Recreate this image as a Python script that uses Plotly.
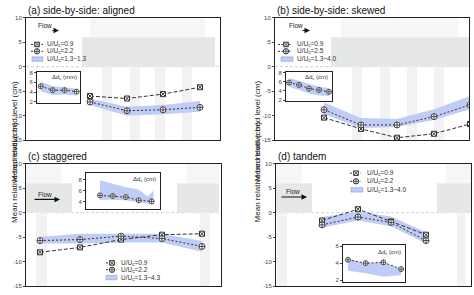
import plotly.graph_objects as go

W, H = 474, 295
def fx(p): return p / W
def fy(p): return 1 - p / H

FONT = "Liberation Sans, Arial, sans-serif"

# ---------------- data ----------------
# main panels: streamwise station positions (arbitrary units, no axis labels)
pos_a = [64, 101, 137, 174]
bed_a_09 = [-6.0, -6.5, -5.6, -4.2]
bed_a_22 = [-7.2, -9.0, -8.8, -8.3]
band_a_hi = [-6.5, -8.2, -7.8, -7.0]
band_a_lo = [-7.8, -10.0, -9.7, -9.2]

pos_b = [49, 86, 122, 159, 195]
bed_b_09 = [-10.4, -12.7, -14.5, -13.7, -11.7]
bed_b_25 = [-8.8, -11.9, -11.9, -10.2, -7.8]
band_b_hi = [-7.3, -10.5, -10.7, -8.7, -6.0]
band_b_lo = [-9.7, -12.5, -12.3, -10.9, -8.7]

pos_c = [14, 54, 95, 136, 176]
bed_c_09 = [-8.1, -7.1, -5.5, -4.5, -4.3]
bed_c_22 = [-5.7, -5.5, -4.8, -5.3, -6.9]
band_c_hi = [-4.9, -4.3, -4.3, -4.3, -5.8]
band_c_lo = [-6.3, -6.3, -6.1, -6.1, -8.0]

pos_d = [46, 82, 115, 150]
bed_d_09 = [-1.6, 0.7, -1.8, -4.5]
bed_d_22 = [-2.5, -0.9, -2.0, -5.7]
band_d_hi = [-0.9, 0.2, -0.8, -4.0]
band_d_lo = [-3.1, -1.6, -2.8, -6.3]

# insets: scour depth difference
ins_a_pos = [0, 1, 2, 3]
ins_a_val = [5.2, 4.4, 4.4, 4.1]
ins_a_hi = [6.2, 5.2, 5.0, 4.7]
ins_a_lo = [4.2, 3.4, 3.5, 3.3]

ins_b_pos = [0, 1, 2, 3, 4]
ins_b_val = [5.8, 5.3, 4.5, 4.2, 3.8]
ins_b_hi = [6.8, 6.2, 5.5, 4.9, 4.6]
ins_b_lo = [4.9, 4.2, 3.4, 3.0, 2.9]

ins_c_pos = [0, 1, 2, 3, 4]
ins_c_val = [5.1, 5.0, 4.8, 4.2, 4.0]
ins_c_band_pos = [0, 1, 2, 3, 3.7, 4.15]
ins_c_hi = [7.9, 7.2, 6.6, 6.2, 4.9, 6.0]
ins_c_lo = [4.3, 4.3, 4.2, 3.9, 3.6, 3.4]

ins_d_pos = [0, 1, 2, 3]
ins_d_val = [4.4, 4.0, 4.1, 3.3]
ins_d_hi = [4.5, 4.0, 4.1, 3.3]
ins_d_lo = [3.1, 2.8, 2.4, 2.6]

main_ticks = [-15, -10, -5, 0, 5, 10]
main_ticktext = ["-15", "-10", "-5", "0", "5", "10"]

titles = ["(a) side-by-side: aligned", "(b) side-by-side: skewed", "(c) staggered", "(d) tandem"]
leg_labels = [
    ["U/U<sub>c</sub>=0.9", "U/U<sub>c</sub>=2.2", "U/U<sub>c</sub>=1.3~1.3"],
    ["U/U<sub>c</sub>=0.9", "U/U<sub>c</sub>=2.5", "U/U<sub>c</sub>=1.3~4.0"],
    ["U/U<sub>c</sub>=0.9", "U/U<sub>c</sub>=2.2", "U/U<sub>c</sub>=1.3~4.3"],
    ["U/U<sub>c</sub>=0.9", "U/U<sub>c</sub>=2.2", "U/U<sub>c</sub>=1.3~4.0"],
]
ins_labels = ["Δd<sub>s</sub> (mm)", "Δd<sub>s</sub> (cm)", "Δd<sub>s</sub> (cm)", "Δd<sub>s</sub> (cm)"]
ytitle = "Mean relative bed level (cm)"

# ---------------- styles / layout geometry (pixels) ----------------
BAND = "#bfccf6"
DARK = "#e6e8e8"
LIGHT = "#f6f6f6"
STRIPE = "#f2f2f2"
MK = "#333333"

main_geo = [  # left, right, top, bottom in px, x range
    (26, 220, 15, 140, 194),
    (275, 469, 15, 140, 194),
    (26, 221, 164, 289, 195),
    (276, 471, 164, 289, 195),
]
inset_geo = [  # left, right, top, bottom, xrange, yrange, ticks
    (37, 80, 70, 102, [-0.31, 3.28], [1.8, 8.2], [2, 4, 6, 8]),
    (286, 332, 70, 100, [-0.3, 4.3], [1.8, 8.2], [2, 4, 6, 8]),
    (86, 160, 174, 210, [-1.08, 4.65], [2.65, 9.15], [4, 6, 8]),
    (343, 405, 247, 285, [-0.28, 3.22], [1.75, 6.15], [2, 4, 6]),
]
# background pier zones per panel: (x0, x1, y0, y1, colour)
zones = [
    [(64, 179, 6, 10, LIGHT), (56, 189, 0, 6, DARK),
     (76, 86, -15, 0, STRIPE), (104, 114, -15, 0, STRIPE),
     (129, 139, -15, 0, STRIPE), (156, 166, -15, 0, STRIPE)],
    [(66, 183, 6, 10, LIGHT), (56, 194, 0, 6, DARK),
     (77, 87, -15, 0, STRIPE), (105, 115, -15, 0, STRIPE),
     (132, 142, -15, 0, STRIPE), (159, 169, -15, 0, STRIPE)],
    [(0, 35, 6, 10, LIGHT), (0, 46, 0, 6, DARK), (10, 21, -15, 0, STRIPE),
     (161, 193, 6, 10, LIGHT), (151, 193, 0, 6, DARK), (174, 184, -15, 0, STRIPE)],
    [(0, 26, 6, 10, LIGHT), (0, 36, 0, 6, DARK), (1, 11, -15, 0, STRIPE),
     (170, 195, 6, 10, LIGHT), (161, 195, 0, 6, DARK), (181, 189, -15, 0, STRIPE)],
]
legend_geo = [  # line x0, x1, marker x, text x, row ys, swatch (x0,x1,y0,y1)
    (31, 43, 37, 45, [42.3, 49.3, 57.3], (32, 43, 55, 59.5)),
    (278, 292, 286, 295, [42.3, 49.3, 57.3], (281, 293, 55, 59.5)),
    (106, 117, 112, 119, [265.3, 272.3, 280.3], (106, 117, 278, 282.5)),
    (350, 361, 356, 365, [173.7, 182, 190.7], (351, 363, 188.5, 193)),
]
flow_geo = [  # text x, text y, arrow x0, x1, y
    (36, 23, 51, 59, 28),
    (287, 23, 301, 310, 28),
    (36, 195.5, 33, 60, 200.5),
    (284, 192, 280, 307, 198),
]
ytitle_x = [8, 257, 8, 257]
title_y = [8, 8, 157, 157]
ins_label_pos = [(79, 76), (330, 76), (158, 180), (403, 255)]

main_data = [
    (pos_a, bed_a_09, bed_a_22, band_a_hi, band_a_lo),
    (pos_b, bed_b_09, bed_b_25, band_b_hi, band_b_lo),
    (pos_c, bed_c_09, bed_c_22, band_c_hi, band_c_lo),
    (pos_d, bed_d_09, bed_d_22, band_d_hi, band_d_lo),
]
ins_data = [
    (ins_a_pos, ins_a_val, ins_a_pos, ins_a_hi, ins_a_lo),
    (ins_b_pos, ins_b_val, ins_b_pos, ins_b_hi, ins_b_lo),
    (ins_c_pos, ins_c_val, ins_c_band_pos, ins_c_hi, ins_c_lo),
    (ins_d_pos, ins_d_val, ins_d_pos, ins_d_hi, ins_d_lo),
]

fig = go.Figure()
shapes = []
annos = []
layout = {}

def ax_id(i):
    return "" if i == 1 else str(i)

for k in range(4):
    i = k + 1
    xs, s1, s2, hi, lo = main_data[k]
    xref, yref = "x" + ax_id(i), "y" + ax_id(i)
    fig.add_trace(go.Scatter(x=xs + xs[::-1], y=hi + lo[::-1], fill="toself",
                             fillcolor=BAND, line=dict(width=0), mode="lines",
                             hoverinfo="skip", showlegend=False, xaxis=xref, yaxis=yref))
    fig.add_trace(go.Scatter(x=xs, y=s1, mode="lines+markers", showlegend=False,
                             line=dict(color=MK, width=1, dash="4px,2px"),
                             marker=dict(symbol="square-x", size=5, color="white",
                                         line=dict(color=MK, width=1)),
                             xaxis=xref, yaxis=yref))
    fig.add_trace(go.Scatter(x=xs, y=s2, mode="lines+markers", showlegend=False,
                             line=dict(color=MK, width=1, dash="2px,2px"),
                             marker=dict(symbol="circle-cross", size=6, color="white",
                                         line=dict(color=MK, width=0.9)),
                             xaxis=xref, yaxis=yref))
    l, r, t, b, xr = main_geo[k]
    layout["xaxis" + ax_id(i)] = dict(domain=[fx(l), fx(r)], range=[0, xr], showline=True,
                                      mirror=True, linecolor="#222", linewidth=1,
                                      showticklabels=False, ticks="", showgrid=False,
                                      zeroline=False, anchor="y" + ax_id(i))
    layout["yaxis" + ax_id(i)] = dict(domain=[fy(b), fy(t)], range=[-15, 10], showline=True,
                                      mirror=True, linecolor="#222", linewidth=1,
                                      tickvals=main_ticks, ticktext=main_ticktext,
                                      ticks="outside", ticklen=2, tickcolor="#444",
                                      tickfont=dict(size=6, color="#444", family=FONT),
                                      showgrid=False, zeroline=False, anchor="x" + ax_id(i))
    for (x0, x1, y0, y1, col) in zones[k]:
        shapes.append(dict(type="rect", xref=xref, yref=yref, x0=x0, x1=x1, y0=y0, y1=y1,
                           fillcolor=col, line=dict(width=0), layer="below"))
    shapes.append(dict(type="line", xref=xref + " domain", yref=yref, x0=0, x1=1, y0=0, y1=0,
                       line=dict(color="#d2d2d2", width=1, dash="3px,2px"), layer="below"))

    # title and y-axis title
    annos.append(dict(text=titles[k], x=fx(l), y=fy(title_y[k]), xref="paper", yref="paper",
                      xanchor="left", yanchor="middle", showarrow=False,
                      font=dict(size=10, color="#111", family=FONT)))
    annos.append(dict(text=ytitle, x=fx(ytitle_x[k]), y=fy((t + b) / 2), xref="paper",
                      yref="paper", textangle=-90, showarrow=False,
                      font=dict(size=8, color="#222", family=FONT)))

    # manual legend keys
    lx0, lx1, mx, tx, rows, sw = legend_geo[k]
    for j, ry in enumerate(rows[:2]):
        shapes.append(dict(type="line", xref="paper", yref="paper", x0=fx(lx0), x1=fx(lx1),
                           y0=fy(ry), y1=fy(ry),
                           line=dict(color=MK, width=1, dash="2px,1.5px")))
        s = 2.3 if j == 0 else 2.7
        if j == 0:
            shapes.append(dict(type="rect", xref="paper", yref="paper", x0=fx(mx - s),
                               x1=fx(mx + s), y0=fy(ry + s), y1=fy(ry - s), fillcolor="white",
                               line=dict(color=MK, width=1)))
            shapes.append(dict(type="path", xref="paper", yref="paper",
                               path=f"M {fx(mx-s)} {fy(ry-s)} L {fx(mx+s)} {fy(ry+s)} "
                                    f"M {fx(mx-s)} {fy(ry+s)} L {fx(mx+s)} {fy(ry-s)}",
                               line=dict(color=MK, width=0.8)))
        else:
            shapes.append(dict(type="circle", xref="paper", yref="paper", x0=fx(mx - s),
                               x1=fx(mx + s), y0=fy(ry + s), y1=fy(ry - s), fillcolor="white",
                               line=dict(color=MK, width=1)))
            shapes.append(dict(type="path", xref="paper", yref="paper",
                               path=f"M {fx(mx-s)} {fy(ry)} L {fx(mx+s)} {fy(ry)} "
                                    f"M {fx(mx)} {fy(ry+s)} L {fx(mx)} {fy(ry-s)}",
                               line=dict(color=MK, width=0.8)))
    sx0, sx1, sy0, sy1 = sw
    shapes.append(dict(type="rect", xref="paper", yref="paper", x0=fx(sx0), x1=fx(sx1),
                       y0=fy(sy1), y1=fy(sy0), fillcolor=BAND,
                       line=dict(color="#8a9ad8", width=0.6)))
    for j, ry in enumerate(rows):
        annos.append(dict(text=leg_labels[k][j], x=fx(tx), y=fy(ry), xref="paper", yref="paper",
                          xanchor="left", yanchor="middle", showarrow=False,
                          font=dict(size=6.5, color="#333", family=FONT)))

    # flow marker
    ftx, fty, ax0, ax1, ay = flow_geo[k]
    annos.append(dict(text="Flow", x=fx(ftx), y=fy(fty), xref="paper", yref="paper",
                      xanchor="left", yanchor="middle", showarrow=False,
                      font=dict(size=6.5, color="#222", family=FONT)))
    annos.append(dict(text="", x=fx(ax1), y=fy(ay), xref="paper", yref="paper",
                      ax=-(ax1 - ax0), ay=0, showarrow=True, arrowhead=2, arrowsize=1,
                      arrowwidth=1.1, arrowcolor="#111"))

# insets
for k in range(4):
    i = k + 5
    xs, vals, bx, hi, lo = ins_data[k]
    xref, yref = "x" + str(i), "y" + str(i)
    fig.add_trace(go.Scatter(x=bx + bx[::-1], y=hi + lo[::-1], fill="toself",
                             fillcolor=BAND, line=dict(width=0), mode="lines",
                             hoverinfo="skip", showlegend=False, xaxis=xref, yaxis=yref))
    fig.add_trace(go.Scatter(x=xs, y=vals, mode="lines+markers", showlegend=False,
                             line=dict(color=MK, width=1, dash="2px,2px"),
                             marker=dict(symbol="circle-cross", size=5, color="white",
                                         line=dict(color=MK, width=0.8)),
                             xaxis=xref, yaxis=yref))
    l, r, t, b, xr, yr, tv = inset_geo[k]
    layout["xaxis" + str(i)] = dict(domain=[fx(l), fx(r)], range=xr, showline=True, mirror=True,
                                    linecolor="#222", linewidth=1, showticklabels=False,
                                    ticks="", showgrid=False, zeroline=False, anchor=yref)
    layout["yaxis" + str(i)] = dict(domain=[fy(b), fy(t)], range=yr, showline=True, mirror=True,
                                    linecolor="#222", linewidth=1, tickvals=tv, ticks="outside",
                                    ticklen=2, tickcolor="#444",
                                    tickfont=dict(size=6, color="#444", family=FONT),
                                    showgrid=False, zeroline=False, anchor=xref)
    lxp, lyp = ins_label_pos[k]
    annos.append(dict(text=ins_labels[k], x=fx(lxp), y=fy(lyp), xref="paper", yref="paper",
                      xanchor="right", yanchor="middle", showarrow=False,
                      font=dict(size=6, color="#333", family=FONT)))

fig.update_layout(width=W, height=H, margin=dict(l=0, r=0, t=0, b=0),
                  paper_bgcolor="white", plot_bgcolor="white", showlegend=False,
                  shapes=shapes, annotations=annos, font=dict(family=FONT), **layout)

fig.write_html("out.html")
